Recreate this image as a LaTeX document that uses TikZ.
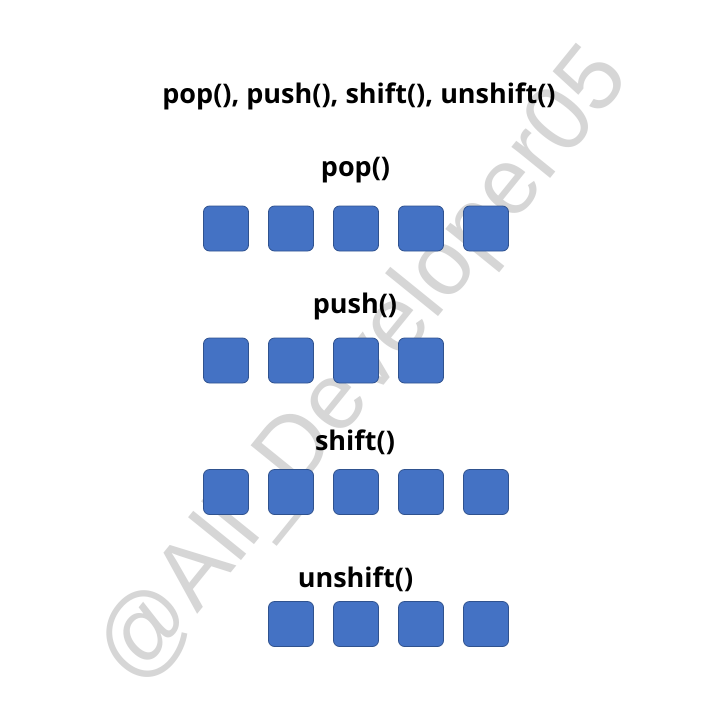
\documentclass[tikz,border=0pt]{standalone}
\usepackage{fontspec}
\setmainfont{Open Sans}
\newfontfamily\wmfont{Liberation Sans}
\definecolor{boxfill}{HTML}{4472C4}
\definecolor{boxline}{HTML}{2F528F}
\definecolor{wmgray}{HTML}{D6D6D6}
\tikzset{
  cell/.style={draw=boxline, fill=boxfill, line width=0.8pt, rounded corners=6pt,
    minimum width=45pt, minimum height=45pt, inner sep=0pt},
  lbl/.style={anchor=base, inner sep=0pt, font=\fontsize{27}{30}\selectfont\bfseries},
  wm/.style={inner sep=0pt, text=wmgray, font=\wmfont\fontsize{94}{94}\selectfont}
}
\begin{document}
\begin{tikzpicture}[x=1pt,y=-1pt]
\useasboundingbox[fill=white] (0,0) rectangle (720,720);
% watermark
\node[wm, rotate=51] (wm) at (366,368) {@Ali\_Developer05};
% titles
\node[lbl] (title) at (359,103) {pop(), push(), shift(), unshift()};
\node[lbl] (lpop) at (355.5,176) {pop()};
\node[lbl] (lpush) at (355,313) {push()};
\node[lbl] (lshift) at (355,450) {shift()};
\node[lbl] (lunshift) at (355.5,587) {unshift()};
% rows of cells
\foreach \i/\x in {1/226,2/291,3/356,4/421,5/486} {
  \node[cell] (pop\i) at (\x,228.5) {};
  \node[cell] (shift\i) at (\x,492) {};
}
\foreach \i/\x in {1/226,2/291,3/356,4/421} {
  \node[cell] (push\i) at (\x,360.5) {};
}
\foreach \i/\x in {2/291,3/356,4/421,5/486} {
  \node[cell] (unshift\i) at (\x,624) {};
}
\end{tikzpicture}
\end{document}
